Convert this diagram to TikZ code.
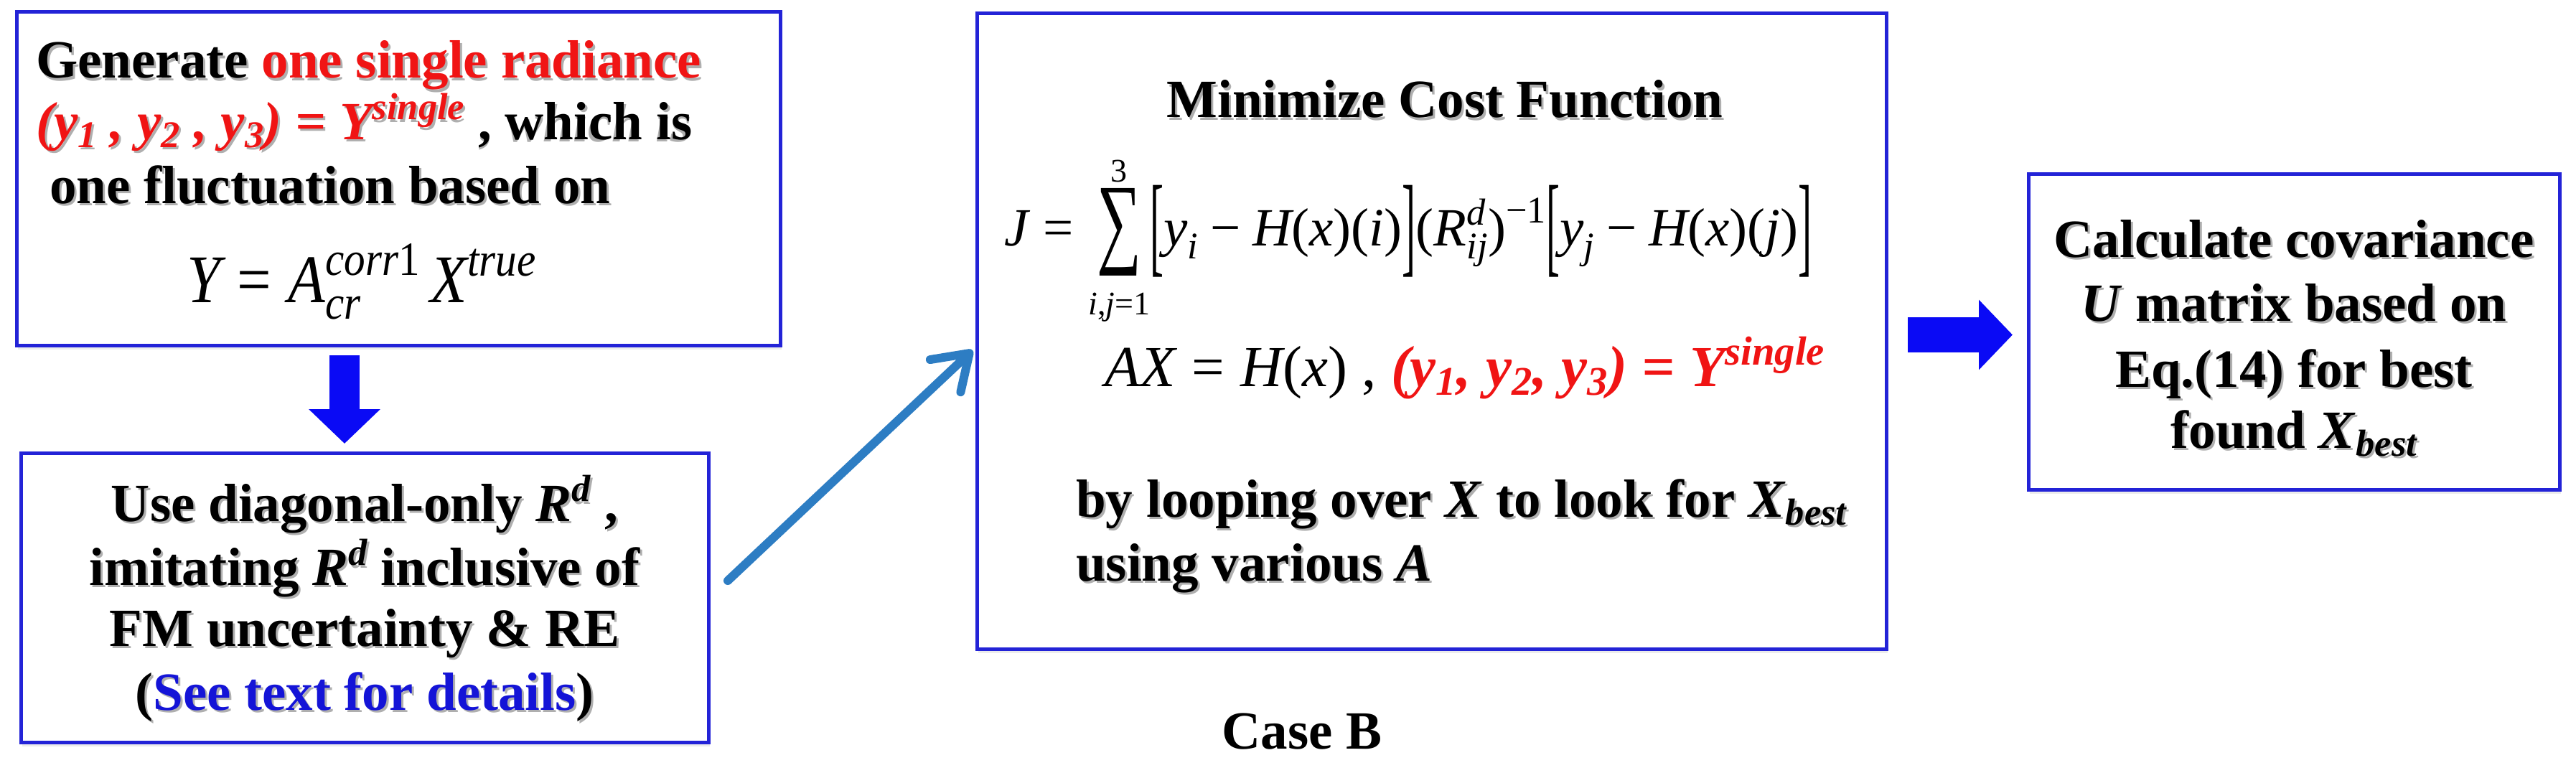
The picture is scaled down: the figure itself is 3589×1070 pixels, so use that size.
\RequirePackage{fix-cm}
\documentclass[tikz,border=0pt]{standalone}
\usepackage{amsmath}
\usepackage{graphicx}
\usepackage{fontspec}
\setmainfont{Liberation Serif}
\usetikzlibrary{arrows.meta,calc,shadows}

\definecolor{boxblue}{RGB}{35,35,215}
\definecolor{arrowblue}{RGB}{10,10,245}
\definecolor{diagblue}{RGB}{45,125,195}
\definecolor{txtred}{RGB}{240,20,20}
\definecolor{linkblue}{RGB}{20,20,215}
\definecolor{shadowgray}{RGB}{175,175,175}

\newcommand{\ti}[1]{\text{\normalfont\itshape #1}}
\newcommand{\tu}[1]{\text{\normalfont #1}}
\newcommand{\tbi}[1]{\text{\bfseries\itshape #1}}
\newcommand{\lmt}[1]{\text{\normalfont\fontsize{46}{46}\selectfont #1}}
\newcommand{\yred}[1]{\textcolor{txtred}{\bfseries\itshape (y$_{\tbi{1}}$#1, y$_{\tbi{2}}$#1, y$_{\tbi{3}}$) = Y$^{\tbi{single}}$}}
% soft text shadow: a grey copy behind the text, a little down and to the right
\def\shsecond#1#2{#2}
\newcommand{\sh}[1]{\leavevmode\rlap{\hspace{3pt}\raisebox{-3.5pt}{\color{shadowgray}\let\textcolor\shsecond #1}}#1}
% glyph resized to given width, height above and depth below the baseline
\newsavebox\symbox
\newcommand{\bigglyph}[4]{%
  \sbox\symbox{\resizebox*{#2}{\dimexpr#3+#4\relax}{\normalfont #1}}%
  \raisebox{\dimexpr\dp\symbox-#4\relax}{\usebox\symbox}}
\newcommand{\lbr}{\mathopen{\bigglyph{[}{19pt}{84pt}{44pt}}}
\newcommand{\rbr}{\mathclose{\bigglyph{]}{19pt}{84pt}{44pt}}}

\tikzset{
  box/.style={draw=boxblue, line width=5pt, fill=white, inner sep=0pt, outer sep=0pt,
    anchor=north west, drop shadow={shadow xshift=2pt, shadow yshift=-6pt, opacity=0.15}},
  txt/.style={inner sep=0pt, font=\fontsize{75}{87}\selectfont\bfseries},
  blockarrow/.style={draw=arrowblue, line cap=butt},
  diagarrow/.style={draw=diagblue, line width=12pt, line cap=round,
    -{Straight Barb[length=46pt,width=62pt,round]}}
}

\begin{document}
\begin{tikzpicture}[x=1pt,y=-1pt]
\useasboundingbox (0,0) rectangle (3589,1070);

% boxes
\node[box, minimum width=1064pt, minimum height=464pt] (box1) at (23,17) {};
\node[box, minimum width=958pt, minimum height=403pt] (box2) at (29,631) {};
\node[box, minimum width=1267pt, minimum height=885pt] (box3) at (1361,19) {};
\node[box, minimum width=740pt, minimum height=440pt] (box4) at (2826,242) {};

% box 1 text
\node[txt, anchor=base west] (l11) at (50,109) {\sh{Generate \textcolor{txtred}{one single radiance}}};
\node[txt, anchor=base west] (l12) at (50,194) {\sh{\yred{\ } , which is}};
\node[txt, anchor=base west] (l13) at (69,283) {\sh{one fluctuation based on}};
\node[txt, anchor=base west, font=\fontsize{95}{95}\selectfont] (l14) at (260,421)
  {\scalebox{0.89}[1]{$\ti{Y} \mathrel{\tu{=}} \ti{A}^{\ti{corr}\tu{1}}_{\ti{cr}}\,\ti{X}^{\ti{true}}$}};

% box 2 text
\node[txt, anchor=base] (l21) at (508,726) {\sh{Use diagonal-only \textit{R}$^{\tbi{d}}$ ,}};
\node[txt, anchor=base] (l22) at (508,815) {\sh{imitating \textit{R}$^{\tbi{d}}$ inclusive of}};
\node[txt, anchor=base] (l23) at (508,900) {\sh{FM uncertainty \& RE}};
\node[txt, anchor=base] (l24) at (508,989) {\sh{(\textcolor{linkblue}{See text for details})}};

% box 3 text
\node[txt, anchor=base] (l31) at (2013,164) {\sh{Minimize Cost Function}};
\node[txt, anchor=base west] (l32) at (1399,342)
  {$\ti{J} \mathrel{\tu{=}}
   \mathop{\bigglyph{∑}{62pt}{80pt}{42pt}}\limits^{\lmt{\raisebox{0pt}[\height][6pt]{3}}}_{\lmt{\raisebox{0pt}[\dimexpr\height+20pt][\depth]{\itshape i\upshape,\itshape j\upshape =1}}}
   \lbr\ti{y}_{\ti{i}} \mathbin{\tu{−}} \ti{H}\tu{(}\ti{x}\tu{)(}\ti{i}\tu{)}\rbr
   \tu{(}\ti{R}^{\ti{d}}_{\ti{ij}}\tu{)}^{\tu{−1}}
   \lbr\ti{y}_{\ti{j}} \mathbin{\tu{−}} \ti{H}\tu{(}\ti{x}\tu{)(}\ti{j}\tu{)}\rbr$};
\node[txt, anchor=base west, font=\fontsize{81}{87}\selectfont\bfseries] (l33) at (1539,538)
  {$\ti{AX} \mathrel{\tu{=}} \ti{H}\tu{(}\ti{x}\tu{)}$ \textnormal{,} \yred{}};
\node[txt, anchor=base west] (l34) at (1499,720) {\sh{by looping over \textit{X} to look for \textit{X}$_{\tbi{best}}$}};
\node[txt, anchor=base west] (l35) at (1499,809) {\sh{using various \textit{A}}};

% box 4 text
\node[txt, anchor=base] (l41) at (3196,358) {\sh{Calculate covariance}};
\node[txt, anchor=base] (l42) at (3196,447) {\sh{\textit{U} matrix based on}};
\node[txt, anchor=base] (l43) at (3196,539) {\sh{Eq.(14) for best}};
\node[txt, anchor=base] (l44) at (3196,624) {\sh{found \textit{X}$_{\tbi{best}}$}};

% caption
\node[txt, anchor=base] (cap) at (1814,1043) {Case B};

% connectors
\draw[blockarrow, line width=42pt, -{Triangle[length=48pt,width=97pt]}]
  ($(box1.south)+(-75,14)$) -- ($(box2.north)+(-28,-13)$);
\draw[blockarrow, line width=49pt, -{Triangle[length=47pt,width=95pt]}]
  ($(box3.east)+(30,5)$) -- ($(box4.west)+(-22,4.5)$);
\draw[diagarrow] ($(box2.east)+(27,-23.5)$) -- ($(box3.west)+(-6,26.5)$);
\end{tikzpicture}
\end{document}
